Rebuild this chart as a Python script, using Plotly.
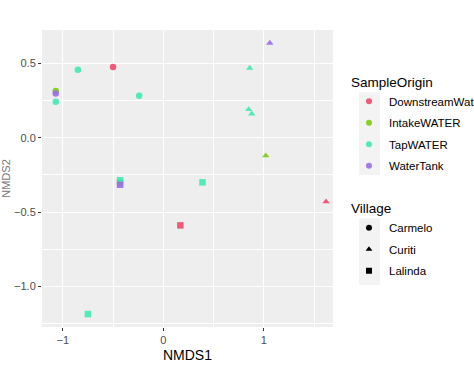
import plotly.graph_objects as go

# ---- data ----
origins = ["DownstreamWater", "IntakeWATER", "TapWATER", "WaterTank"]
origin_labels = ["DownstreamWat", "IntakeWATER", "TapWATER", "WaterTank"]
villages = ["Carmelo", "Curiti", "Lalinda"]

sample_origin = [
    "DownstreamWater", "TapWATER", "TapWATER", "IntakeWATER", "WaterTank", "TapWATER",
    "TapWATER", "IntakeWATER", "WaterTank", "TapWATER", "DownstreamWater", "TapWATER",
    "WaterTank", "TapWATER", "TapWATER", "TapWATER", "IntakeWATER", "DownstreamWater",
]
village = [
    "Carmelo", "Carmelo", "Carmelo", "Carmelo", "Carmelo", "Carmelo",
    "Lalinda", "Lalinda", "Lalinda", "Lalinda", "Lalinda", "Lalinda",
    "Curiti", "Curiti", "Curiti", "Curiti", "Curiti", "Curiti",
]
nmds1 = [-0.50, -0.85, -0.24, -1.07, -1.07, -1.07,
         -0.43, -0.43, -0.43, 0.39, 0.17, -0.75,
         1.06, 0.86, 0.85, 0.88, 1.02, 1.62]
nmds2 = [0.475, 0.457, 0.282, 0.314, 0.298, 0.242,
         -0.286, -0.300, -0.316, -0.300, -0.589, -1.185,
         0.636, 0.468, 0.190, 0.161, -0.121, -0.430]

x_ticks = [-1, 0, 1]
y_ticks = [-1.0, -0.5, 0.0, 0.5]
y_tick_labels = ["\u22121.0", "\u22120.5", "0.0", "0.5"]
x_tick_labels = ["\u22121", "0", "1"]

colors = {"DownstreamWater": "#EC4A6C", "IntakeWATER": "#7CCB12",
          "TapWATER": "#41E8B2", "WaterTank": "#9A6BEA"}
symbols = {"Carmelo": "circle", "Curiti": "triangle-up", "Lalinda": "square"}

fig = go.Figure()
for o in origins:
    for v in villages:
        xs = [x for x, so, vv in zip(nmds1, sample_origin, village) if so == o and vv == v]
        ys = [y for y, so, vv in zip(nmds2, sample_origin, village) if so == o and vv == v]
        if not xs:
            continue
        fig.add_trace(go.Scatter(
            x=xs, y=ys, mode="markers", showlegend=False, hoverinfo="skip",
            marker=dict(color=colors[o], symbol=symbols[v], size=6.5, opacity=0.9,
                        line=dict(width=0)),
        ))

for o, lab in zip(origins, origin_labels):
    fig.add_trace(go.Scatter(x=[None], y=[None], mode="markers", name=lab, legend="legend",
                             legendgroup="o_" + o,
                             marker=dict(color=colors[o], symbol="circle", size=6, opacity=0.9)))
for v in villages:
    fig.add_trace(go.Scatter(x=[None], y=[None], mode="markers", name=v, legend="legend2",
                             legendgroup="v_" + v,
                             marker=dict(color="black", symbol=symbols[v], size=6)))

common = dict(
    showgrid=True, gridcolor="white", gridwidth=1.1, zeroline=False,
    ticks="outside", ticklen=3, tickcolor="#333333", tickwidth=1.1,
    tickfont=dict(family="Liberation Sans, Arial", size=11, color="#4D4D4D"),
    showline=False, automargin=False,
)

# light grey legend key backgrounds (ggplot style)
key_bg = "#F3F3F3"
shapes = [
    dict(type="rect", xref="paper", yref="paper", x0=1.0893, x1=1.1615, y0=0.512, y1=0.790,
         fillcolor=key_bg, line=dict(width=0), layer="below"),
    dict(type="rect", xref="paper", yref="paper", x0=1.0893, x1=1.1615, y0=0.141, y1=0.366,
         fillcolor=key_bg, line=dict(width=0), layer="below"),
]

# plot area in pixels: x 42..333, y 30..327
fig.update_layout(
    width=474, height=390,
    margin=dict(l=42, r=141, t=30, b=63, autoexpand=False),
    paper_bgcolor="white", plot_bgcolor="#EEEEEE",
    font=dict(family="Liberation Sans, Arial", color="black"),
    shapes=shapes,
    xaxis=dict(range=[-1.207, 1.689], tickvals=x_ticks, ticktext=x_tick_labels,
               title=dict(text="NMDS1", font=dict(size=14, color="black"), standoff=4),
               minor=dict(showgrid=True, gridcolor="white", gridwidth=0.5, ticks="",
                          tickvals=[-0.5, 0.5, 1.5]),
               **common),
    yaxis=dict(range=[-1.272, 0.724], tickvals=y_ticks, ticktext=y_tick_labels,
               title=dict(text="NMDS2", font=dict(size=11, color="#777777"), standoff=2),
               minor=dict(showgrid=True, gridcolor="white", gridwidth=0.5, ticks="",
                          tickvals=[-1.25, -0.75, -0.25, 0.25]),
               **common),
    legend=dict(x=1.055, y=0.868, xanchor="left", yanchor="top",
                title=dict(text="SampleOrigin", font=dict(size=13.5)),
                font=dict(size=11.5), bgcolor="rgba(0,0,0,0)", tracegroupgap=2.5,
                itemsizing="trace"),
    legend2=dict(x=1.055, y=0.442, xanchor="left", yanchor="top",
                 title=dict(text="Village", font=dict(size=13.5)),
                 font=dict(size=11.5), bgcolor="rgba(0,0,0,0)", tracegroupgap=2.5,
                 itemsizing="trace"),
)

fig.write_html("out.html", config={"displayModeBar": False},
               post_script="document.body.style.margin='0';")
